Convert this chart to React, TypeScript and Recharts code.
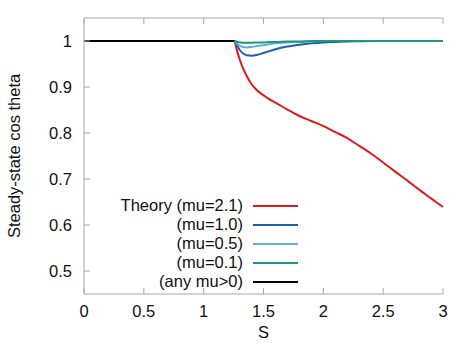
import { LineChart, Line, XAxis, YAxis, ReferenceLine } from 'recharts';

const sVals = [0, 1.26, 1.28, 1.3, 1.33, 1.36, 1.4, 1.45, 1.5, 1.55, 1.6, 1.7, 1.8, 1.9, 2.0, 2.1, 2.2, 2.3, 2.4, 2.5, 2.6, 2.7, 2.8, 2.9, 3.0];
const mu21 = [null, 1.0, 0.978, 0.961, 0.94, 0.924, 0.906, 0.892, 0.882, 0.873, 0.866, 0.851, 0.837, 0.826, 0.815, 0.802, 0.789, 0.772, 0.755, 0.736, 0.716, 0.697, 0.677, 0.658, 0.639];
const mu10 = [null, 1.0, 0.99, 0.981, 0.973, 0.969, 0.968, 0.97, 0.974, 0.978, 0.982, 0.988, 0.992, 0.995, 0.997, 0.998, 0.999, 0.9995, 1, 1, 1, 1, 1, 1, 1];
const mu05 = [null, 1.0, 0.994, 0.99, 0.987, 0.986, 0.987, 0.989, 0.991, 0.993, 0.995, 0.997, 0.998, 0.999, 1, 1, 1, 1, 1, 1, 1, 1, 1, 1, 1];
const mu01 = [null, 1.0, 0.998, 0.997, 0.996, 0.996, 0.996, 0.997, 0.997, 0.998, 0.998, 0.999, 0.999, 1, 1, 1, 1, 1, 1, 1, 1, 1, 1, 1, 1];
const anyMu = [1, 1, null, null, null, null, null, null, null, null, null, null, null, null, null, null, null, null, null, null, null, null, null, null, null];

const xTicks = [0, 0.5, 1, 1.5, 2, 2.5, 3];
const yTicks = [0.5, 0.6, 0.7, 0.8, 0.9, 1];
const yDomain = [0.45, 1.05];

const seriesKeys = ['mu21', 'mu10', 'mu05', 'mu01', 'anyMu'];
const seriesNames = ['Theory (mu=2.1)', '(mu=1.0)', '(mu=0.5)', '(mu=0.1)', '(any mu>0)'];
const seriesColors = ['#e0191b', '#1f5fae', '#62afe0', '#17997a', '#000000'];

const data = sVals.map((s, i) => ({
    s,
    mu21: mu21[i],
    mu10: mu10[i],
    mu05: mu05[i],
    mu01: mu01[i],
    anyMu: anyMu[i],
}));

const FONT = 'Liberation Sans, Arial, sans-serif';
const FS = 16.5;
const AXIS = '#a8a8a8';
// inward tick length on the top edge, in y units (~6px)
const TOP_TICK = 0.013;

const XTick = (props: any) => {
    const { x, y, payload } = props;
    return (
        <g>
            <line x1={x} y1={y} x2={x} y2={y - 6} stroke={AXIS} />
            <text x={x} y={y + 23} textAnchor="middle" fontSize={FS} fontFamily={FONT} fill="#111">
                {String(payload.value)}
            </text>
        </g>
    );
};

const YTick = (props: any) => {
    const { x, y, payload } = props;
    return (
        <g>
            <line x1={x} y1={y} x2={x + 6} y2={y} stroke={AXIS} />
            <text x={x - 12} y={y + 6} textAnchor="end" fontSize={FS} fontFamily={FONT} fill="#111">
                {String(payload.value)}
            </text>
        </g>
    );
};

// draw order: green on top of the blues at y=1
const drawOrder = [4, 0, 1, 2, 3];

export default function App() {
    return (
        <div style={{ position: 'absolute', left: 0, top: 0, width: 474, height: 355, background: '#fff' }}>
            <LineChart width={474} height={355} data={data} margin={{ top: 18, right: 31, left: 24, bottom: 21 }}>
                <XAxis
                    dataKey="s"
                    type="number"
                    domain={[0, 3]}
                    ticks={xTicks}
                    tickSize={0}
                    tickMargin={0}
                    tickLine={false}
                    tick={<XTick />}
                    stroke={AXIS}
                    height={40}
                    label={{ value: 'S', position: 'insideBottom', offset: -4, fontSize: FS, fontFamily: FONT, fill: '#111' }}
                />
                <YAxis
                    type="number"
                    domain={yDomain}
                    ticks={yTicks}
                    tickSize={0}
                    tickMargin={0}
                    tickLine={false}
                    tick={<YTick />}
                    stroke={AXIS}
                    width={60}
                    label={{ value: 'Steady-state cos theta', angle: -90, position: 'insideLeft', offset: -10, dy: 82, fontSize: FS, fontFamily: FONT, fill: '#111' }}
                />
                <YAxis
                    yAxisId="right"
                    orientation="right"
                    type="number"
                    domain={yDomain}
                    ticks={yTicks}
                    mirror
                    tick={false}
                    tickSize={6}
                    width={0}
                    stroke={AXIS}
                />
                <ReferenceLine y={yDomain[1]} stroke={AXIS} ifOverflow="visible" />
                {xTicks.map((t) => (
                    <ReferenceLine
                        key={`top-${t}`}
                        stroke={AXIS}
                        ifOverflow="visible"
                        segment={[{ x: t, y: yDomain[1] }, { x: t, y: yDomain[1] - TOP_TICK }]}
                    />
                ))}
                {drawOrder.map((i) => (
                    <Line
                        key={seriesKeys[i]}
                        dataKey={seriesKeys[i]}
                        name={seriesNames[i]}
                        stroke={seriesColors[i]}
                        strokeWidth={2}
                        type="monotone"
                        dot={false}
                        activeDot={false}
                        isAnimationActive={false}
                    />
                ))}
            </LineChart>
            <div style={{ position: 'absolute', left: 90, top: 196, fontFamily: FONT, fontSize: FS, color: '#111' }}>
                {seriesNames.map((name, i) => (
                    <div key={name} style={{ display: 'flex', alignItems: 'center', height: 19 }}>
                        <span style={{ width: 153, textAlign: 'right', whiteSpace: 'nowrap' }}>{name}</span>
                        <span style={{ display: 'inline-block', marginLeft: 10, width: 45, height: 2, background: seriesColors[i] }} />
                    </div>
                ))}
            </div>
        </div>
    );
}
